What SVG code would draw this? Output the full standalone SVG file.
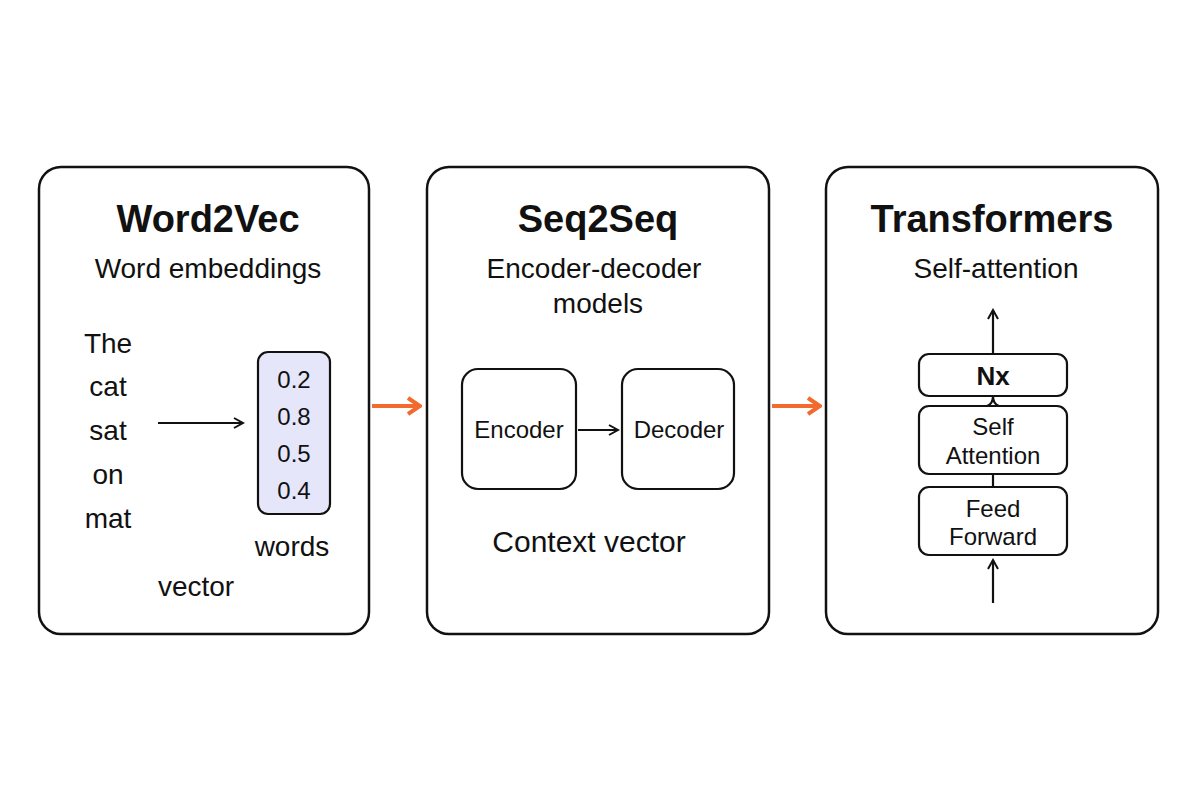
<svg xmlns="http://www.w3.org/2000/svg" width="1200" height="800" viewBox="0 0 1200 800">
<style>
.panel{fill:#fff;stroke:#111;stroke-width:2.5}
.box{fill:#fff;stroke:#111;stroke-width:2.2}
text{font-family:"Liberation Sans",Arial,sans-serif;fill:#111;text-anchor:middle}
.t{font-size:38px;font-weight:bold}
.s{font-size:28px}
.m{font-size:24px}
.w{font-size:28px}
.ln{stroke:#111;stroke-width:2.2;fill:none}
.or{stroke:#f26a2e;stroke-width:4;fill:none}
</style>
<defs>
<marker id="ah" viewBox="0 0 12 12" refX="10" refY="6" markerWidth="12" markerHeight="12" markerUnits="userSpaceOnUse" orient="auto"><path d="M1,1 L10,6 L1,11" fill="none" stroke="#111" stroke-width="2"/></marker>
<marker id="oh" viewBox="0 0 16 20" refX="14" refY="10" markerWidth="16" markerHeight="20" markerUnits="userSpaceOnUse" orient="auto"><path d="M2,2 L14,10 L2,18" fill="none" stroke="#f26a2e" stroke-width="4"/></marker>
</defs>
<g id="word2vec">
<rect class="panel" x="39" y="167" width="330" height="467" rx="22"/>
<text class="t" x="208" y="232">Word2Vec</text>
<text class="s" x="208" y="278">Word embeddings</text>
<text class="w" x="108" y="353">The</text>
<text class="w" x="108" y="396">cat</text>
<text class="w" x="108" y="440">sat</text>
<text class="w" x="108" y="484">on</text>
<text class="w" x="108" y="528">mat</text>
<rect x="258" y="352" width="72" height="162" rx="10" fill="#e6e6fb" stroke="#111" stroke-width="2.2"/>
<text class="m" x="294" y="388">0.2</text>
<text class="m" x="294" y="425">0.8</text>
<text class="m" x="294" y="462">0.5</text>
<text class="m" x="294" y="499">0.4</text>
<text class="w" x="292" y="556">words</text>
<text class="w" x="196" y="596">vector</text>
</g>
<g id="seq2seq">
<rect class="panel" x="427" y="167" width="342" height="467" rx="22"/>
<text class="t" x="598" y="232">Seq2Seq</text>
<text class="s" x="594" y="278">Encoder-decoder</text>
<text class="s" x="598" y="313">models</text>
<rect class="box" x="462" y="369" width="114" height="120" rx="16"/>
<text class="m" x="519" y="438">Encoder</text>
<rect class="box" x="622" y="369" width="112" height="120" rx="16"/>
<text class="m" x="679" y="438">Decoder</text>
<text x="589" y="552" style="font-size:30px">Context vector</text>
</g>
<g id="transformers">
<rect class="panel" x="826" y="167" width="332" height="467" rx="22"/>
<text class="t" x="992" y="232">Transformers</text>
<text class="s" x="996" y="278">Self-attention</text>
<rect class="box" x="919" y="354" width="148" height="42" rx="10"/>
<text x="993" y="385" style="font-size:26px;font-weight:bold">Nx</text>
<rect class="box" x="919" y="406" width="148" height="68" rx="10"/>
<text class="m" x="993" y="435">Self</text>
<text class="m" x="993" y="464">Attention</text>
<rect class="box" x="919" y="487" width="148" height="68" rx="10"/>
<text class="m" x="993" y="517">Feed</text>
<text class="m" x="993" y="545">Forward</text>
</g>
<g id="connectors">
<line class="ln" x1="158" y1="423" x2="243" y2="423" marker-end="url(#ah)"/>
<line class="ln" x1="578" y1="430" x2="618" y2="430" marker-end="url(#ah)"/>
<line class="or" x1="372" y1="406" x2="420" y2="406" marker-end="url(#oh)"/>
<line class="or" x1="772" y1="406" x2="820" y2="406" marker-end="url(#oh)"/>
<line class="ln" x1="993" y1="354" x2="993" y2="310" marker-end="url(#ah)"/>
<path class="ln" d="M987,406 Q993,404 993,396 Q993,404 999,406"/>
<line class="ln" x1="993" y1="474" x2="993" y2="487"/>
<line class="ln" x1="993" y1="603" x2="993" y2="560" marker-end="url(#ah)"/>
</g>
</svg>
